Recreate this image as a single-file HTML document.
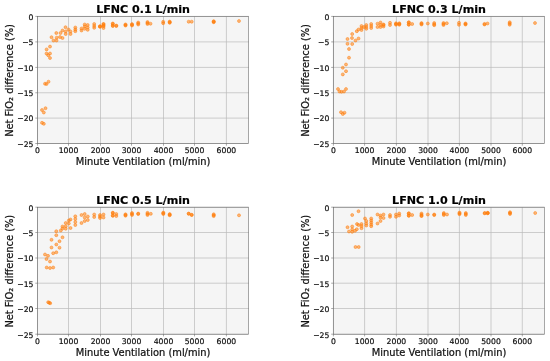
<!DOCTYPE html>
<html lang="en"><head><meta charset="utf-8"><title>LFNC Net FiO2 difference</title>
<style>html,body{margin:0;padding:0;background:#fff}body{width:550px;height:361px;overflow:hidden}svg{display:block}text{font-family:"DejaVu Sans","Liberation Sans",sans-serif;fill:#111;stroke:#111;stroke-width:0.22px}.tk{font-size:7.7px}.lb{font-size:9.9px}.tt{font-size:11.1px;font-weight:bold;fill:#000}.d circle{fill:#ff7f0e;fill-opacity:0.55;stroke:#ff7f0e;stroke-opacity:0.62;stroke-width:0.8}</style></head><body>
<svg width="550" height="361" viewBox="0 0 550 361">
<rect width="550" height="361" fill="#fff"/>
<g>
<rect x="37.50" y="16.40" width="211.20" height="127.10" fill="#f5f5f5"/>
<path d="M37.50 16.40V143.50M68.50 16.40V143.50M100.50 16.40V143.50M131.50 16.40V143.50M163.50 16.40V143.50M194.50 16.40V143.50M226.40 16.40V143.50M37.50 16.40H248.70M37.50 41.90H248.70M37.50 67.40H248.70M37.50 92.75H248.70M37.50 118.10H248.70M37.50 143.50H248.70" stroke="#bababa" stroke-width="0.7" fill="none"/>
<g class="d"><circle cx="51.5" cy="37.2" r="1.5"/><circle cx="56.3" cy="33.0" r="1.5"/><circle cx="53.5" cy="40.5" r="1.5"/><circle cx="56.5" cy="40.5" r="1.5"/><circle cx="56.7" cy="37.7" r="1.5"/><circle cx="60.0" cy="37.0" r="1.5"/><circle cx="60.5" cy="33.0" r="1.5"/><circle cx="62.5" cy="30.5" r="1.5"/><circle cx="62.5" cy="38.0" r="1.5"/><circle cx="65.5" cy="27.2" r="1.5"/><circle cx="65.7" cy="34.0" r="1.5"/><circle cx="65.7" cy="31.5" r="1.5"/><circle cx="68.5" cy="29.5" r="1.5"/><circle cx="70.5" cy="31.5" r="1.5"/><circle cx="70.5" cy="34.0" r="1.5"/><circle cx="75.3" cy="27.5" r="1.5"/><circle cx="75.3" cy="29.5" r="1.5"/><circle cx="75.3" cy="31.2" r="1.5"/><circle cx="81.5" cy="28.5" r="1.5"/><circle cx="81.5" cy="30.5" r="1.5"/><circle cx="84.7" cy="24.5" r="1.5"/><circle cx="84.7" cy="26.5" r="1.5"/><circle cx="84.7" cy="28.8" r="1.5"/><circle cx="87.7" cy="25.0" r="1.5"/><circle cx="87.7" cy="27.5" r="1.5"/><circle cx="87.7" cy="29.8" r="1.5"/><circle cx="50.0" cy="46.6" r="1.5"/><circle cx="46.6" cy="49.4" r="1.5"/><circle cx="46.5" cy="53.5" r="1.5"/><circle cx="50.0" cy="53.5" r="1.5"/><circle cx="48.2" cy="55.2" r="1.5"/><circle cx="50.0" cy="58.0" r="1.5"/><circle cx="48.5" cy="81.7" r="1.5"/><circle cx="46.5" cy="84.0" r="1.5"/><circle cx="45.0" cy="83.7" r="1.5"/><circle cx="45.5" cy="108.2" r="1.5"/><circle cx="42.0" cy="110.0" r="1.5"/><circle cx="43.8" cy="112.5" r="1.5"/><circle cx="42.0" cy="122.8" r="1.5"/><circle cx="43.8" cy="123.8" r="1.5"/><circle cx="94.2" cy="24.0" r="1.5"/><circle cx="94.2" cy="26.0" r="1.5"/><circle cx="94.2" cy="27.8" r="1.5"/><circle cx="103.5" cy="24.0" r="1.5"/><circle cx="103.5" cy="26.0" r="1.5"/><circle cx="103.5" cy="28.0" r="1.5"/><circle cx="138.2" cy="22.5" r="1.5"/><circle cx="138.2" cy="24.5" r="1.5"/><circle cx="150.5" cy="23.7" r="1.5"/><circle cx="188.7" cy="21.7" r="1.5"/><circle cx="191.7" cy="21.7" r="1.5"/><circle cx="239.0" cy="21.0" r="1.5"/><circle cx="100.0" cy="26.2" r="1.5"/><circle cx="100.0" cy="26.8" r="1.5"/><circle cx="100.0" cy="26.5" r="1.5"/><circle cx="103.5" cy="24.2" r="1.5"/><circle cx="103.5" cy="25.8" r="1.5"/><circle cx="112.8" cy="23.5" r="1.5"/><circle cx="112.8" cy="23.9" r="1.5"/><circle cx="112.8" cy="25.6" r="1.5"/><circle cx="112.8" cy="26.0" r="1.5"/><circle cx="116.3" cy="25.6" r="1.5"/><circle cx="116.3" cy="26.0" r="1.5"/><circle cx="125.5" cy="24.4" r="1.5"/><circle cx="125.5" cy="25.0" r="1.5"/><circle cx="125.5" cy="25.6" r="1.5"/><circle cx="132.0" cy="24.1" r="1.5"/><circle cx="132.0" cy="24.8" r="1.5"/><circle cx="132.0" cy="25.5" r="1.5"/><circle cx="138.2" cy="23.5" r="1.5"/><circle cx="147.5" cy="22.0" r="1.5"/><circle cx="147.5" cy="23.0" r="1.5"/><circle cx="147.5" cy="24.0" r="1.5"/><circle cx="163.2" cy="21.8" r="1.5"/><circle cx="163.2" cy="23.2" r="1.5"/><circle cx="169.7" cy="21.6" r="1.5"/><circle cx="169.7" cy="22.2" r="1.5"/><circle cx="169.7" cy="22.8" r="1.5"/><circle cx="213.7" cy="21.2" r="1.5"/><circle cx="213.7" cy="21.7" r="1.5"/><circle cx="213.7" cy="22.2" r="1.5"/></g>
<path d="M37.50 143.50v2.20M68.50 143.50v2.20M100.50 143.50v2.20M131.50 143.50v2.20M163.50 143.50v2.20M194.50 143.50v2.20M226.40 143.50v2.20M37.50 16.40h-2.20M37.50 41.90h-2.20M37.50 67.40h-2.20M37.50 92.75h-2.20M37.50 118.10h-2.20M37.50 143.50h-2.20" stroke="#646464" stroke-width="0.55" fill="none"/>
<rect x="37.50" y="16.40" width="211.20" height="127.10" fill="none" stroke="#646464" stroke-width="0.55"/>
<text class="tk" x="37.50" y="153.30" text-anchor="middle">0</text>
<text class="tk" x="68.50" y="153.30" text-anchor="middle">1000</text>
<text class="tk" x="100.50" y="153.30" text-anchor="middle">2000</text>
<text class="tk" x="131.50" y="153.30" text-anchor="middle">3000</text>
<text class="tk" x="163.50" y="153.30" text-anchor="middle">4000</text>
<text class="tk" x="194.50" y="153.30" text-anchor="middle">5000</text>
<text class="tk" x="226.40" y="153.30" text-anchor="middle">6000</text>
<text class="tk" x="33.50" y="19.70" text-anchor="end">0</text>
<text class="tk" x="33.50" y="45.20" text-anchor="end">−5</text>
<text class="tk" x="33.50" y="70.70" text-anchor="end">−10</text>
<text class="tk" x="33.50" y="96.05" text-anchor="end">−15</text>
<text class="tk" x="33.50" y="121.40" text-anchor="end">−20</text>
<text class="tk" x="33.50" y="146.80" text-anchor="end">−25</text>
<text class="tt" x="143.10" y="13.00" text-anchor="middle">LFNC 0.1 L/min</text>
<text class="lb" x="143.10" y="165.10" text-anchor="middle">Minute Ventilation (ml/min)</text>
<text class="lb" transform="translate(13.10 80.45) rotate(-90)" text-anchor="middle">Net FiO₂ difference (%)</text>
</g>
<g>
<rect x="333.40" y="16.40" width="211.20" height="127.10" fill="#f5f5f5"/>
<path d="M333.40 16.40V143.50M364.60 16.40V143.50M396.40 16.40V143.50M428.00 16.40V143.50M459.40 16.40V143.50M491.00 16.40V143.50M522.30 16.40V143.50M333.40 16.40H544.60M333.40 41.90H544.60M333.40 67.40H544.60M333.40 92.75H544.60M333.40 118.10H544.60M333.40 143.50H544.60" stroke="#bababa" stroke-width="0.7" fill="none"/>
<g class="d"><circle cx="347.5" cy="39.0" r="1.5"/><circle cx="347.5" cy="43.8" r="1.5"/><circle cx="349.0" cy="49.0" r="1.5"/><circle cx="352.2" cy="44.0" r="1.5"/><circle cx="352.2" cy="34.0" r="1.5"/><circle cx="352.0" cy="38.0" r="1.5"/><circle cx="355.5" cy="40.5" r="1.5"/><circle cx="358.5" cy="38.5" r="1.5"/><circle cx="356.8" cy="31.2" r="1.5"/><circle cx="358.5" cy="29.5" r="1.5"/><circle cx="361.5" cy="26.0" r="1.5"/><circle cx="361.5" cy="28.0" r="1.5"/><circle cx="361.5" cy="30.0" r="1.5"/><circle cx="364.0" cy="27.0" r="1.5"/><circle cx="366.3" cy="25.0" r="1.5"/><circle cx="366.3" cy="27.0" r="1.5"/><circle cx="366.3" cy="28.8" r="1.5"/><circle cx="371.2" cy="24.0" r="1.5"/><circle cx="371.2" cy="26.0" r="1.5"/><circle cx="371.2" cy="28.0" r="1.5"/><circle cx="377.5" cy="23.7" r="1.5"/><circle cx="377.5" cy="27.0" r="1.5"/><circle cx="380.5" cy="22.5" r="1.5"/><circle cx="380.5" cy="25.0" r="1.5"/><circle cx="380.5" cy="27.0" r="1.5"/><circle cx="383.5" cy="24.5" r="1.5"/><circle cx="383.5" cy="26.5" r="1.5"/><circle cx="349.0" cy="57.7" r="1.5"/><circle cx="346.0" cy="64.5" r="1.5"/><circle cx="342.8" cy="67.7" r="1.5"/><circle cx="346.0" cy="71.2" r="1.5"/><circle cx="342.8" cy="74.4" r="1.5"/><circle cx="338.0" cy="89.0" r="1.5"/><circle cx="346.0" cy="89.0" r="1.5"/><circle cx="339.5" cy="91.5" r="1.5"/><circle cx="344.0" cy="91.5" r="1.5"/><circle cx="341.5" cy="91.8" r="1.5"/><circle cx="341.0" cy="112.2" r="1.5"/><circle cx="344.5" cy="112.7" r="1.5"/><circle cx="342.8" cy="114.0" r="1.5"/><circle cx="390.0" cy="22.8" r="1.5"/><circle cx="390.0" cy="25.0" r="1.5"/><circle cx="408.8" cy="22.5" r="1.5"/><circle cx="408.8" cy="24.5" r="1.5"/><circle cx="412.2" cy="24.0" r="1.5"/><circle cx="427.8" cy="23.5" r="1.5"/><circle cx="446.8" cy="23.2" r="1.5"/><circle cx="459.0" cy="22.8" r="1.5"/><circle cx="459.0" cy="24.8" r="1.5"/><circle cx="487.5" cy="23.5" r="1.5"/><circle cx="535.0" cy="23.0" r="1.5"/><circle cx="383.5" cy="25.0" r="1.5"/><circle cx="396.0" cy="23.3" r="1.5"/><circle cx="396.0" cy="24.0" r="1.5"/><circle cx="396.0" cy="24.7" r="1.5"/><circle cx="399.3" cy="23.3" r="1.5"/><circle cx="399.3" cy="24.0" r="1.5"/><circle cx="399.3" cy="24.7" r="1.5"/><circle cx="408.8" cy="22.3" r="1.5"/><circle cx="408.8" cy="24.7" r="1.5"/><circle cx="421.5" cy="23.1" r="1.5"/><circle cx="421.5" cy="23.8" r="1.5"/><circle cx="421.5" cy="24.5" r="1.5"/><circle cx="434.2" cy="23.0" r="1.5"/><circle cx="434.2" cy="24.2" r="1.5"/><circle cx="434.2" cy="25.2" r="1.5"/><circle cx="443.5" cy="23.0" r="1.5"/><circle cx="443.5" cy="24.0" r="1.5"/><circle cx="443.5" cy="25.0" r="1.5"/><circle cx="465.5" cy="23.4" r="1.5"/><circle cx="465.5" cy="24.0" r="1.5"/><circle cx="465.5" cy="24.6" r="1.5"/><circle cx="484.5" cy="23.9" r="1.5"/><circle cx="484.5" cy="24.5" r="1.5"/><circle cx="509.7" cy="22.3" r="1.5"/><circle cx="509.7" cy="23.5" r="1.5"/><circle cx="509.7" cy="24.7" r="1.5"/></g>
<path d="M333.40 143.50v2.20M364.60 143.50v2.20M396.40 143.50v2.20M428.00 143.50v2.20M459.40 143.50v2.20M491.00 143.50v2.20M522.30 143.50v2.20M333.40 16.40h-2.20M333.40 41.90h-2.20M333.40 67.40h-2.20M333.40 92.75h-2.20M333.40 118.10h-2.20M333.40 143.50h-2.20" stroke="#646464" stroke-width="0.55" fill="none"/>
<rect x="333.40" y="16.40" width="211.20" height="127.10" fill="none" stroke="#646464" stroke-width="0.55"/>
<text class="tk" x="333.40" y="153.30" text-anchor="middle">0</text>
<text class="tk" x="364.60" y="153.30" text-anchor="middle">1000</text>
<text class="tk" x="396.40" y="153.30" text-anchor="middle">2000</text>
<text class="tk" x="428.00" y="153.30" text-anchor="middle">3000</text>
<text class="tk" x="459.40" y="153.30" text-anchor="middle">4000</text>
<text class="tk" x="491.00" y="153.30" text-anchor="middle">5000</text>
<text class="tk" x="522.30" y="153.30" text-anchor="middle">6000</text>
<text class="tk" x="329.40" y="19.70" text-anchor="end">0</text>
<text class="tk" x="329.40" y="45.20" text-anchor="end">−5</text>
<text class="tk" x="329.40" y="70.70" text-anchor="end">−10</text>
<text class="tk" x="329.40" y="96.05" text-anchor="end">−15</text>
<text class="tk" x="329.40" y="121.40" text-anchor="end">−20</text>
<text class="tk" x="329.40" y="146.80" text-anchor="end">−25</text>
<text class="tt" x="439.00" y="13.00" text-anchor="middle">LFNC 0.3 L/min</text>
<text class="lb" x="439.00" y="165.10" text-anchor="middle">Minute Ventilation (ml/min)</text>
<text class="lb" transform="translate(309.00 80.45) rotate(-90)" text-anchor="middle">Net FiO₂ difference (%)</text>
</g>
<g>
<rect x="37.50" y="207.20" width="211.20" height="127.00" fill="#f5f5f5"/>
<path d="M37.50 207.20V334.20M68.50 207.20V334.20M100.50 207.20V334.20M131.50 207.20V334.20M163.50 207.20V334.20M194.50 207.20V334.20M226.40 207.20V334.20M37.50 207.20H248.70M37.50 232.50H248.70M37.50 258.00H248.70M37.50 283.20H248.70M37.50 308.50H248.70M37.50 334.20H248.70" stroke="#bababa" stroke-width="0.7" fill="none"/>
<g class="d"><circle cx="51.5" cy="239.8" r="1.5"/><circle cx="56.3" cy="235.2" r="1.5"/><circle cx="56.3" cy="231.2" r="1.5"/><circle cx="60.8" cy="230.5" r="1.5"/><circle cx="62.5" cy="226.5" r="1.5"/><circle cx="62.5" cy="228.5" r="1.5"/><circle cx="62.5" cy="237.3" r="1.5"/><circle cx="65.7" cy="223.0" r="1.5"/><circle cx="65.7" cy="226.2" r="1.5"/><circle cx="65.7" cy="228.7" r="1.5"/><circle cx="68.8" cy="220.5" r="1.5"/><circle cx="68.8" cy="223.5" r="1.5"/><circle cx="70.5" cy="219.5" r="1.5"/><circle cx="70.5" cy="228.0" r="1.5"/><circle cx="75.3" cy="216.3" r="1.5"/><circle cx="75.3" cy="219.0" r="1.5"/><circle cx="75.3" cy="222.0" r="1.5"/><circle cx="75.3" cy="225.0" r="1.5"/><circle cx="81.5" cy="215.0" r="1.5"/><circle cx="81.5" cy="223.0" r="1.5"/><circle cx="84.7" cy="214.0" r="1.5"/><circle cx="84.7" cy="217.5" r="1.5"/><circle cx="84.7" cy="221.0" r="1.5"/><circle cx="87.8" cy="216.5" r="1.5"/><circle cx="87.8" cy="220.0" r="1.5"/><circle cx="59.5" cy="241.2" r="1.5"/><circle cx="56.3" cy="244.5" r="1.5"/><circle cx="51.5" cy="247.5" r="1.5"/><circle cx="59.5" cy="247.7" r="1.5"/><circle cx="56.3" cy="252.3" r="1.5"/><circle cx="53.2" cy="253.2" r="1.5"/><circle cx="45.0" cy="254.5" r="1.5"/><circle cx="48.0" cy="255.8" r="1.5"/><circle cx="46.5" cy="259.0" r="1.5"/><circle cx="50.0" cy="261.5" r="1.5"/><circle cx="46.7" cy="267.5" r="1.5"/><circle cx="50.0" cy="268.0" r="1.5"/><circle cx="53.2" cy="267.5" r="1.5"/><circle cx="48.2" cy="302.2" r="1.5"/><circle cx="50.2" cy="303.2" r="1.5"/><circle cx="94.2" cy="214.5" r="1.5"/><circle cx="94.2" cy="217.0" r="1.5"/><circle cx="100.0" cy="215.0" r="1.5"/><circle cx="100.0" cy="218.0" r="1.5"/><circle cx="103.5" cy="214.5" r="1.5"/><circle cx="103.5" cy="217.5" r="1.5"/><circle cx="112.8" cy="213.0" r="1.5"/><circle cx="112.8" cy="215.8" r="1.5"/><circle cx="116.3" cy="214.0" r="1.5"/><circle cx="116.3" cy="216.0" r="1.5"/><circle cx="132.0" cy="213.0" r="1.5"/><circle cx="132.0" cy="215.0" r="1.5"/><circle cx="150.8" cy="213.8" r="1.5"/><circle cx="188.7" cy="213.8" r="1.5"/><circle cx="191.7" cy="215.0" r="1.5"/><circle cx="239.0" cy="215.3" r="1.5"/><circle cx="49.2" cy="302.7" r="1.5"/><circle cx="100.0" cy="216.5" r="1.5"/><circle cx="112.8" cy="212.7" r="1.5"/><circle cx="112.8" cy="215.5" r="1.5"/><circle cx="125.5" cy="214.3" r="1.5"/><circle cx="125.5" cy="215.0" r="1.5"/><circle cx="125.5" cy="215.7" r="1.5"/><circle cx="132.0" cy="214.0" r="1.5"/><circle cx="138.2" cy="213.6" r="1.5"/><circle cx="138.2" cy="214.0" r="1.5"/><circle cx="147.5" cy="212.8" r="1.5"/><circle cx="147.5" cy="213.9" r="1.5"/><circle cx="147.5" cy="215.0" r="1.5"/><circle cx="163.3" cy="212.6" r="1.5"/><circle cx="163.3" cy="213.3" r="1.5"/><circle cx="163.3" cy="214.0" r="1.5"/><circle cx="169.7" cy="214.1" r="1.5"/><circle cx="169.7" cy="214.7" r="1.5"/><circle cx="169.7" cy="215.3" r="1.5"/><circle cx="188.7" cy="213.6" r="1.5"/><circle cx="191.7" cy="214.8" r="1.5"/><circle cx="213.7" cy="214.3" r="1.5"/><circle cx="213.7" cy="215.2" r="1.5"/><circle cx="213.7" cy="216.1" r="1.5"/></g>
<path d="M37.50 334.20v2.20M68.50 334.20v2.20M100.50 334.20v2.20M131.50 334.20v2.20M163.50 334.20v2.20M194.50 334.20v2.20M226.40 334.20v2.20M37.50 207.20h-2.20M37.50 232.50h-2.20M37.50 258.00h-2.20M37.50 283.20h-2.20M37.50 308.50h-2.20M37.50 334.20h-2.20" stroke="#646464" stroke-width="0.55" fill="none"/>
<rect x="37.50" y="207.20" width="211.20" height="127.00" fill="none" stroke="#646464" stroke-width="0.55"/>
<text class="tk" x="37.50" y="344.00" text-anchor="middle">0</text>
<text class="tk" x="68.50" y="344.00" text-anchor="middle">1000</text>
<text class="tk" x="100.50" y="344.00" text-anchor="middle">2000</text>
<text class="tk" x="131.50" y="344.00" text-anchor="middle">3000</text>
<text class="tk" x="163.50" y="344.00" text-anchor="middle">4000</text>
<text class="tk" x="194.50" y="344.00" text-anchor="middle">5000</text>
<text class="tk" x="226.40" y="344.00" text-anchor="middle">6000</text>
<text class="tk" x="33.50" y="210.50" text-anchor="end">0</text>
<text class="tk" x="33.50" y="235.80" text-anchor="end">−5</text>
<text class="tk" x="33.50" y="261.30" text-anchor="end">−10</text>
<text class="tk" x="33.50" y="286.50" text-anchor="end">−15</text>
<text class="tk" x="33.50" y="311.80" text-anchor="end">−20</text>
<text class="tk" x="33.50" y="337.50" text-anchor="end">−25</text>
<text class="tt" x="143.10" y="203.80" text-anchor="middle">LFNC 0.5 L/min</text>
<text class="lb" x="143.10" y="355.80" text-anchor="middle">Minute Ventilation (ml/min)</text>
<text class="lb" transform="translate(13.10 271.20) rotate(-90)" text-anchor="middle">Net FiO₂ difference (%)</text>
</g>
<g>
<rect x="333.40" y="207.20" width="211.20" height="127.00" fill="#f5f5f5"/>
<path d="M333.40 207.20V334.20M364.60 207.20V334.20M396.40 207.20V334.20M428.00 207.20V334.20M459.40 207.20V334.20M491.00 207.20V334.20M522.30 207.20V334.20M333.40 207.20H544.60M333.40 232.50H544.60M333.40 258.00H544.60M333.40 283.20H544.60M333.40 308.50H544.60M333.40 334.20H544.60" stroke="#bababa" stroke-width="0.7" fill="none"/>
<g class="d"><circle cx="358.5" cy="211.2" r="1.5"/><circle cx="352.2" cy="215.0" r="1.5"/><circle cx="347.5" cy="227.2" r="1.5"/><circle cx="349.0" cy="231.5" r="1.5"/><circle cx="352.2" cy="226.5" r="1.5"/><circle cx="352.2" cy="229.5" r="1.5"/><circle cx="352.2" cy="231.8" r="1.5"/><circle cx="355.0" cy="230.8" r="1.5"/><circle cx="356.8" cy="229.2" r="1.5"/><circle cx="357.0" cy="224.0" r="1.5"/><circle cx="358.5" cy="225.0" r="1.5"/><circle cx="361.5" cy="224.0" r="1.5"/><circle cx="361.5" cy="226.0" r="1.5"/><circle cx="361.5" cy="228.2" r="1.5"/><circle cx="365.0" cy="218.5" r="1.5"/><circle cx="366.3" cy="221.0" r="1.5"/><circle cx="366.3" cy="223.5" r="1.5"/><circle cx="366.3" cy="225.5" r="1.5"/><circle cx="371.2" cy="218.5" r="1.5"/><circle cx="371.2" cy="220.5" r="1.5"/><circle cx="371.2" cy="222.5" r="1.5"/><circle cx="371.2" cy="224.5" r="1.5"/><circle cx="371.2" cy="226.2" r="1.5"/><circle cx="377.5" cy="214.5" r="1.5"/><circle cx="377.5" cy="223.5" r="1.5"/><circle cx="380.5" cy="215.5" r="1.5"/><circle cx="380.5" cy="217.5" r="1.5"/><circle cx="380.5" cy="221.0" r="1.5"/><circle cx="383.5" cy="214.5" r="1.5"/><circle cx="383.5" cy="218.0" r="1.5"/><circle cx="355.5" cy="247.0" r="1.5"/><circle cx="358.7" cy="247.0" r="1.5"/><circle cx="390.0" cy="215.0" r="1.5"/><circle cx="390.0" cy="216.8" r="1.5"/><circle cx="396.0" cy="214.5" r="1.5"/><circle cx="396.0" cy="216.8" r="1.5"/><circle cx="399.2" cy="213.5" r="1.5"/><circle cx="399.2" cy="215.5" r="1.5"/><circle cx="408.8" cy="213.5" r="1.5"/><circle cx="408.8" cy="215.8" r="1.5"/><circle cx="412.2" cy="215.0" r="1.5"/><circle cx="421.5" cy="213.5" r="1.5"/><circle cx="421.5" cy="215.8" r="1.5"/><circle cx="427.8" cy="214.5" r="1.5"/><circle cx="443.8" cy="213.0" r="1.5"/><circle cx="443.8" cy="215.0" r="1.5"/><circle cx="447.0" cy="214.5" r="1.5"/><circle cx="484.7" cy="213.0" r="1.5"/><circle cx="487.7" cy="213.0" r="1.5"/><circle cx="535.2" cy="213.0" r="1.5"/><circle cx="408.8" cy="213.3" r="1.5"/><circle cx="408.8" cy="215.6" r="1.5"/><circle cx="421.5" cy="214.6" r="1.5"/><circle cx="421.5" cy="216.0" r="1.5"/><circle cx="434.2" cy="214.5" r="1.5"/><circle cx="434.2" cy="215.1" r="1.5"/><circle cx="443.8" cy="214.0" r="1.5"/><circle cx="459.5" cy="212.6" r="1.5"/><circle cx="459.5" cy="213.4" r="1.5"/><circle cx="459.5" cy="214.2" r="1.5"/><circle cx="465.8" cy="213.0" r="1.5"/><circle cx="465.8" cy="214.0" r="1.5"/><circle cx="465.8" cy="215.0" r="1.5"/><circle cx="484.7" cy="213.3" r="1.5"/><circle cx="487.7" cy="213.3" r="1.5"/><circle cx="487.7" cy="212.8" r="1.5"/><circle cx="510.0" cy="212.2" r="1.5"/><circle cx="510.0" cy="213.1" r="1.5"/><circle cx="510.0" cy="214.0" r="1.5"/></g>
<path d="M333.40 334.20v2.20M364.60 334.20v2.20M396.40 334.20v2.20M428.00 334.20v2.20M459.40 334.20v2.20M491.00 334.20v2.20M522.30 334.20v2.20M333.40 207.20h-2.20M333.40 232.50h-2.20M333.40 258.00h-2.20M333.40 283.20h-2.20M333.40 308.50h-2.20M333.40 334.20h-2.20" stroke="#646464" stroke-width="0.55" fill="none"/>
<rect x="333.40" y="207.20" width="211.20" height="127.00" fill="none" stroke="#646464" stroke-width="0.55"/>
<text class="tk" x="333.40" y="344.00" text-anchor="middle">0</text>
<text class="tk" x="364.60" y="344.00" text-anchor="middle">1000</text>
<text class="tk" x="396.40" y="344.00" text-anchor="middle">2000</text>
<text class="tk" x="428.00" y="344.00" text-anchor="middle">3000</text>
<text class="tk" x="459.40" y="344.00" text-anchor="middle">4000</text>
<text class="tk" x="491.00" y="344.00" text-anchor="middle">5000</text>
<text class="tk" x="522.30" y="344.00" text-anchor="middle">6000</text>
<text class="tk" x="329.40" y="210.50" text-anchor="end">0</text>
<text class="tk" x="329.40" y="235.80" text-anchor="end">−5</text>
<text class="tk" x="329.40" y="261.30" text-anchor="end">−10</text>
<text class="tk" x="329.40" y="286.50" text-anchor="end">−15</text>
<text class="tk" x="329.40" y="311.80" text-anchor="end">−20</text>
<text class="tk" x="329.40" y="337.50" text-anchor="end">−25</text>
<text class="tt" x="439.00" y="203.80" text-anchor="middle">LFNC 1.0 L/min</text>
<text class="lb" x="439.00" y="355.80" text-anchor="middle">Minute Ventilation (ml/min)</text>
<text class="lb" transform="translate(309.00 271.20) rotate(-90)" text-anchor="middle">Net FiO₂ difference (%)</text>
</g>
</svg></body></html>
